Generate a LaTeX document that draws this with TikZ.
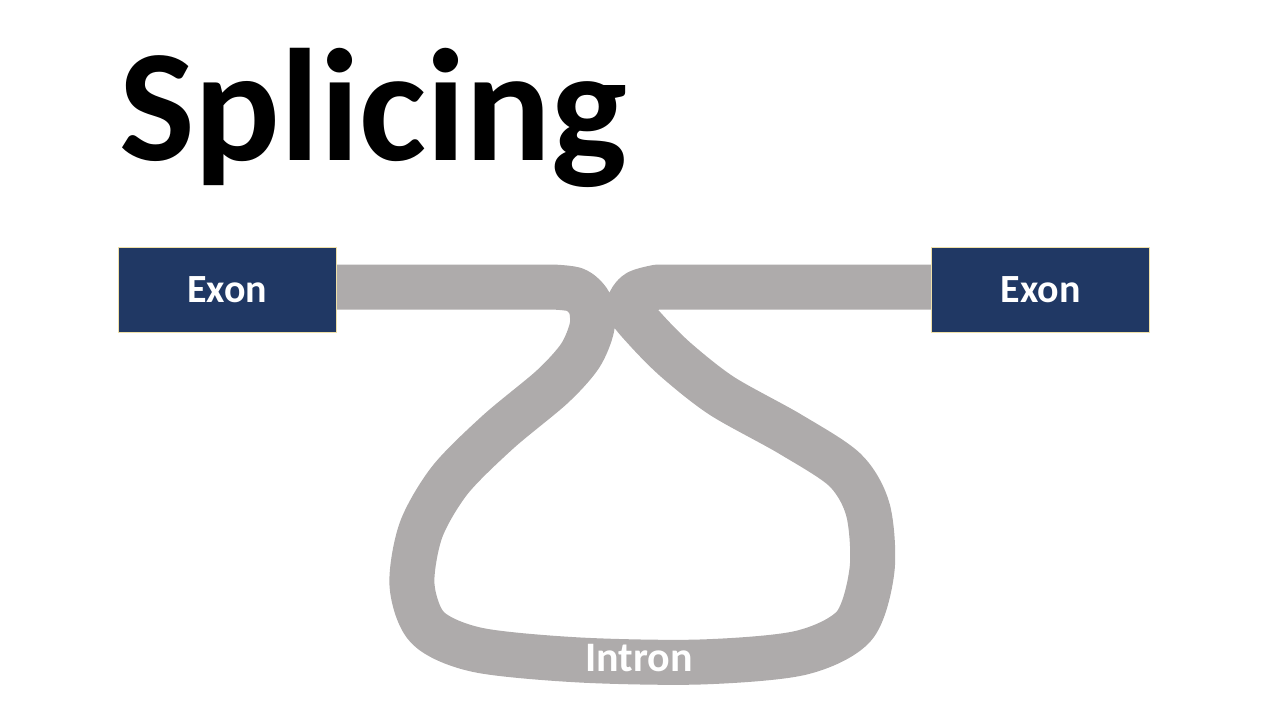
\documentclass[tikz,border=0pt]{standalone}
\usepackage{fontspec}
\setmainfont{Carlito}
\usepackage{tikz}
\usetikzlibrary{positioning}
\definecolor{exonblue}{HTML}{203864}
\definecolor{exonrim}{HTML}{EFE0A8}
\definecolor{rnagrey}{HTML}{AEABAB}

\begin{document}
\begin{tikzpicture}[x=1pt,y=-1pt]
        \tikzstyle{exon}=[rectangle,fill=exonblue,draw=exonrim,line width=1pt,
            minimum width=218pt,minimum height=85pt,inner sep=0pt,
            text=white,font=\bfseries\fontsize{40}{40}\selectfont]
        \tikzstyle{strand}=[draw=rnagrey,line width=45pt,line cap=butt,line join=round]
            \useasboundingbox (0,0) rectangle (1280,720);

            \node[anchor=base west,inner sep=0pt,font=\bfseries\fontsize{160}{160}\selectfont]
                (title) at (119,160) {Splicing};

            % intron loop between the two exons
            \draw[strand] (336,287) -- (552,287) -- plot[smooth,tension=0.5] coordinates {
                (552,287) (576,290) (590,304) (592,327) (580,356) (552,387) (498,432)
                (450,480) (421,530) (412,585) (428,628) (478,650) (580,660)
                (700,662) (800,653) (854,626) (872,570) (868,510) (845,470)
                (790,434) (722,396) (676,360) (646,330) (629,308) (637,293) (658,287)}
                -- (931,287);

            \node[exon] (exL) at (227,289.5) {Exon};
            \node[exon] (exR) at (1040.5,289.5) {Exon};

            \node[text=white,font=\bfseries\fontsize{42}{42}\selectfont]
                (intron) at (639,658) {Intron};
        \end{tikzpicture}
\end{document}
